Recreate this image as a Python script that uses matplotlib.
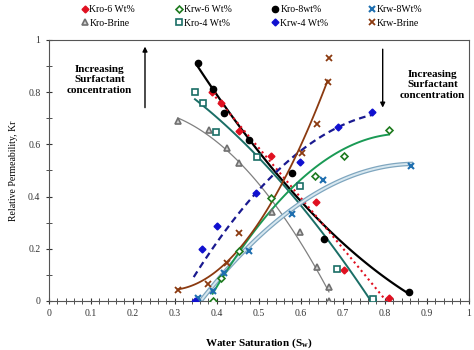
import matplotlib
matplotlib.use('Agg')
import matplotlib.pyplot as plt
import numpy as np
from matplotlib.ticker import MultipleLocator, FuncFormatter

plt.rcParams['font.family'] = ['Liberation Serif', 'DejaVu Serif']

# data
kro6_x = [0.388, 0.41, 0.452, 0.528, 0.636, 0.702, 0.81]
kro6_y = [0.80, 0.76, 0.65, 0.556, 0.38, 0.12, 0.01]
krw6_x = [0.39, 0.41, 0.452, 0.528, 0.633, 0.702, 0.81]
krw6_y = [0.0, 0.09, 0.19, 0.395, 0.48, 0.556, 0.656]
kro8_x = [0.355, 0.39, 0.417, 0.476, 0.578, 0.655, 0.857]
kro8_y = [0.912, 0.812, 0.72, 0.617, 0.49, 0.238, 0.034]
krw8_x = [0.355, 0.39, 0.417, 0.476, 0.578, 0.652, 0.862]
krw8_y = [0.012, 0.04, 0.107, 0.19, 0.333, 0.464, 0.517]
krob_x = [0.307, 0.381, 0.424, 0.452, 0.531, 0.598, 0.638, 0.667, 0.667]
krob_y = [0.69, 0.655, 0.586, 0.528, 0.34, 0.264, 0.13, 0.054, 0.0]
kro4_x = [0.348, 0.367, 0.398, 0.495, 0.598, 0.686, 0.771]
kro4_y = [0.80, 0.76, 0.648, 0.552, 0.44, 0.123, 0.008]
krw4_x = [0.348, 0.364, 0.40, 0.493, 0.598, 0.688, 0.769]
krw4_y = [0.0, 0.2, 0.288, 0.414, 0.533, 0.667, 0.724]
krwb_x = [0.307, 0.379, 0.424, 0.452, 0.602, 0.638, 0.664, 0.667]
krwb_y = [0.042, 0.065, 0.146, 0.26, 0.565, 0.678, 0.84, 0.93]


def trend(ax, x, y, x0, x1, deg=2, **kw):
    p = np.polyfit(x, y, deg)
    xx = np.linspace(x0, x1, 100)
    ax.plot(xx, np.polyval(p, xx), zorder=2, **kw)


fig = plt.figure(figsize=(4.74, 3.5), dpi=100)
ax = fig.add_axes([0.103, 0.14, 0.886, 0.746])

# trend lines
trend(ax, kro8_x, kro8_y, 0.355, 0.857, color='black', lw=1.6)
trend(ax, kro6_x, kro6_y, 0.388, 0.81, color='#e01020', lw=1.5, ls=':')
trend(ax, kro4_x, kro4_y, 0.348, 0.771, color='#1a6e66', lw=1.4)
trend(ax, krob_x, krob_y, 0.307, 0.667, color='#808080', lw=0.9)
trend(ax, krw8_x, krw8_y, 0.36, 0.862, color='#7fa6bf', lw=3.2)
trend(ax, krw8_x, krw8_y, 0.36, 0.862, color='#d8e8f0', lw=1.4)
trend(ax, krw6_x, krw6_y, 0.39, 0.81, color='#1a9a55', lw=1.4)
trend(ax, krw4_x, krw4_y, 0.345, 0.769, color='#1a1a90', lw=1.6, ls=(0, (3, 2)))
trend(ax, krwb_x, krwb_y, 0.307, 0.664, color='#8b3a10', lw=1.3)

# markers
ms = 4.5
h = {}
h['kro6'], = ax.plot(kro6_x, kro6_y, 'D', color='#e01020', ms=3.5, ls='none', label='Kro-6 Wt%', zorder=3)
h['krw6'], = ax.plot(krw6_x, krw6_y, 'D', mfc='white', mec='#1e7a1e', mew=1.2, ms=3.5, ls='none', label='Krw-6 Wt%', zorder=3)
h['kro8'], = ax.plot(kro8_x, kro8_y, 'o', color='black', ms=ms, ls='none', label='Kro-8wt%', zorder=3)
h['krw8'], = ax.plot(krw8_x, krw8_y, 'x', color='#1f6fb0', mew=1.5, ms=ms, ls='none', label='Krw-8Wt%', zorder=3)
h['krob'], = ax.plot(krob_x, krob_y, '^', mfc='#d0d0d0', mec='#707070', mew=1.2, ms=5, ls='none', label='Kro-Brine', zorder=3)
h['kro4'], = ax.plot(kro4_x, kro4_y, 's', mfc='white', mec='#1a6e66', mew=1.2, ms=5, ls='none', label='Kro-4 Wt%', zorder=3)
h['krw4'], = ax.plot(krw4_x, krw4_y, 'D', color='#1010d0', ms=3.5, ls='none', label='Krw-4 Wt%', zorder=3)
h['krwb'], = ax.plot(krwb_x, krwb_y, 'x', color='#8b3a10', mew=1.3, ms=ms, ls='none', label='Krw-Brine', zorder=3)

ax.set_xlim(0, 1)
ax.set_ylim(0, 1)
ax.xaxis.set_major_locator(MultipleLocator(0.1))
ax.xaxis.set_minor_locator(MultipleLocator(0.02))
ax.yaxis.set_major_locator(MultipleLocator(0.2))
ax.yaxis.set_minor_locator(MultipleLocator(0.1))
fmt = FuncFormatter(lambda v, pos: '%g' % round(v, 2))
ax.xaxis.set_major_formatter(fmt)
ax.yaxis.set_major_formatter(fmt)
ax.tick_params(which='both', direction='inout', labelsize=7, colors='#333333')
ax.tick_params(which='major', length=5)
ax.tick_params(which='minor', length=4)
for s in ax.spines.values():
    s.set_color('#555555')

ax.set_xlabel('Water Saturation (S$_\\mathregular{w}$)', fontsize=8, fontweight='bold', labelpad=13)
ax.set_ylabel('Relative Permeability, Kr', fontsize=7, labelpad=7)

ax.text(0.121, 0.847, 'Increasing\nSurfactant\nconcentration', ha='center', va='center',
        fontsize=8, fontweight='bold', linespacing=1.25)
ax.text(0.914, 0.828, 'Increasing\nSurfactant\nconcentration', ha='center', va='center',
        fontsize=8, fontweight='bold', linespacing=1.25)
ax.annotate('', xy=(0.229, 0.985), xytext=(0.229, 0.73),
            arrowprops=dict(arrowstyle='-|>', color='black', lw=1.0, mutation_scale=7))
ax.annotate('', xy=(0.795, 0.73), xytext=(0.795, 0.975),
            arrowprops=dict(arrowstyle='-|>', color='black', lw=1.0, mutation_scale=7))

order = ['kro6', 'krob', 'krw6', 'kro4', 'kro8', 'krw4', 'krw8', 'krwb']
fig.legend([h[k] for k in order], [h[k].get_label() for k in order],
           loc='upper center', bbox_to_anchor=(0.53, 1.01), ncol=4, frameon=False,
           fontsize=7, handletextpad=0.0, columnspacing=4.0, handlelength=1.0,
           labelspacing=0.45)

fig.savefig('out.png', dpi=100)
